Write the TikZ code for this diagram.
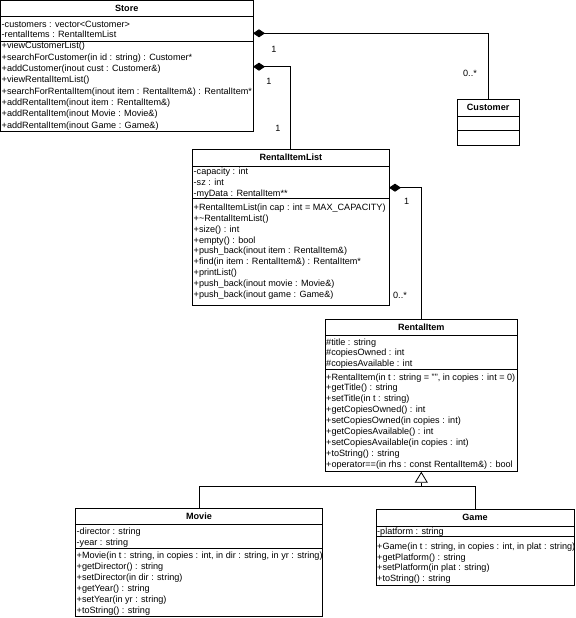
\documentclass[tikz,border=0pt]{standalone}
\usepackage{fontspec}
\setmainfont{Liberation Sans}
\usetikzlibrary{arrows.meta}
\tikzset{
  umlbox/.style={draw=black, line width=0.8bp, inner sep=0, outer sep=0, anchor=north west},
  row/.style={anchor=base west, inner sep=0, font=\fontsize{9.1bp}{10.8bp}\selectfont},
  ttl/.style={inner sep=0, font=\fontsize{9.1bp}{10.8bp}\selectfont\bfseries},
  mult/.style={inner sep=0, font=\fontsize{9.1bp}{10.8bp}\selectfont},
  sepline/.style={line width=0.8bp},
  conn/.style={line width=0.8bp},
  compo/.style={conn, -{Diamond[length=12bp,width=8bp]}},
  inh/.style={conn, -{Triangle[open,length=11bp,width=13bp,fill=white]}},
}
% #1 name, #2 x1, #3 y1, #4 x2, #5 sep1 y, #6 sep2 y, #7 y2, #8 title
\newcommand\umlclass[8]{%
  \node[umlbox, minimum width={(#4-#2)*1bp}, minimum height={(#7-#3)*1bp}] (#1) at (#2,#3) {};
  \draw[sepline] (#2,#5) -- (#4,#5);
  \draw[sepline] (#2,#6) -- (#4,#6);
  \node[ttl] (#1-title) at ({(#2+#4)/2},{(#3+#5)/2}) {#8};
}
% #1 name prefix, #2 x, #3 first row centre y, #4 row step, #5 list
\newcommand\umlrows[5]{%
  \foreach \t [count=\i] in {#5}{%
    \node[row] (#1\i) at (#2,{#3+(\i-1)*#4+3.3}) {\t};
  }%
}
\begin{document}
\begin{tikzpicture}[x=1bp,y=-1bp]
\useasboundingbox (0,0) rectangle (576,618);

% Store
\umlclass{store}{0.5}{0.5}{253}{16}{41}{131.5}{Store}
\umlrows{store-a}{1.5}{24}{10.3}{{-customers : vector<Customer>},{-rentalItems : RentalItemList}}
\umlrows{store-m}{1.5}{45.7}{11.33}{{+viewCustomerList()},{+searchForCustomer(in id : string) : Customer*},{+addCustomer(inout cust : Customer\&)},{+viewRentalItemList()},{+searchForRentalItem(inout item : RentalItem\&) : RentalItem*},{+addRentalItem(inout item : RentalItem\&)},{+addRentalItem(inout Movie : Movie\&)},{+addRentalItem(inout Game : Game\&)}}

% Customer
\umlclass{cust}{457.3}{99.3}{519}{116}{130.3}{145}{Customer}

% RentalItemList
\umlclass{ril}{192.7}{149}{389}{166}{198.3}{305.7}{RentalItemList}
\umlrows{ril-a}{193.5}{171.7}{10.7}{{-capacity : int},{-sz : int},{-myData : RentalItem**}}
\umlrows{ril-m}{193.5}{207.3}{10.84}{{+RentalItemList(in cap : int = MAX\_CAPACITY)},{+\textasciitilde RentalItemList()},{+size() : int},{+empty() : bool},{+push\_back(inout item : RentalItem\&)},{+find(in item : RentalItem\&) : RentalItem*},{+printList()},{+push\_back(inout movie : Movie\&)},{+push\_back(inout game : Game\&)}}

% RentalItem
\umlclass{ri}{325.3}{319}{517.3}{335}{369.3}{471.7}{RentalItem}
\umlrows{ri-a}{326}{341.7}{10.8}{{\#title : string},{\#copiesOwned : int},{\#copiesAvailable : int}}
\umlrows{ri-m}{326}{376.7}{10.95}{{+RentalItem(in t : string = "", in copies : int = 0)},{+getTitle() : string},{+setTitle(in t : string)},{+getCopiesOwned() : int},{+setCopiesOwned(in copies : int)},{+getCopiesAvailable() : int},{+setCopiesAvailable(in copies : int)},{+toString() : string},{+operator==(in rhs : const RentalItem\&) : bool}}

% Movie
\umlclass{movie}{75.7}{508.3}{322.3}{524}{548.3}{616.7}{Movie}
\umlrows{movie-a}{76.5}{531}{10.7}{{-director : string},{-year : string}}
\umlrows{movie-m}{76.5}{555}{11}{{+Movie(in t : string, in copies : int, in dir : string, in yr : string)},{+getDirector() : string},{+setDirector(in dir : string)},{+getYear() : string},{+setYear(in yr : string)},{+toString() : string}}

% Game
\umlclass{game}{376}{509.3}{574}{526}{536.7}{585}{Game}
\umlrows{game-a}{377}{531.3}{10.8}{{-platform : string}}
\umlrows{game-m}{377}{546}{10.8}{{+Game(in t : string, in copies : int, in plat : string)},{+getPlatform() : string},{+setPlatform(in plat : string)},{+toString() : string}}

% Connectors
\draw[compo] (cust.north) |- ([yshift=-32.8bp]store.north east);
\draw[compo] (ril.north) |- ([yshift=-66.2bp]store.north east);
\draw[compo] (ri.north) |- ([yshift=-38.7bp]ril.north east);
\coordinate (junc) at ([yshift=-15bp]ri.south);
\draw[conn] (movie.north) |- (junc) -| (game.north);
\draw[inh] (junc) -- (ri.south);

% Multiplicities
\node[mult] (m1) at (274,49) {1};
\node[mult] (m2) at (470,73) {0..*};
\node[mult] (m3) at (269,81.7) {1};
\node[mult] (m4) at (278,128) {1};
\node[mult] (m5) at (406.7,201.7) {1};
\node[mult] (m6) at (400,295.7) {0..*};
\end{tikzpicture}
\end{document}
